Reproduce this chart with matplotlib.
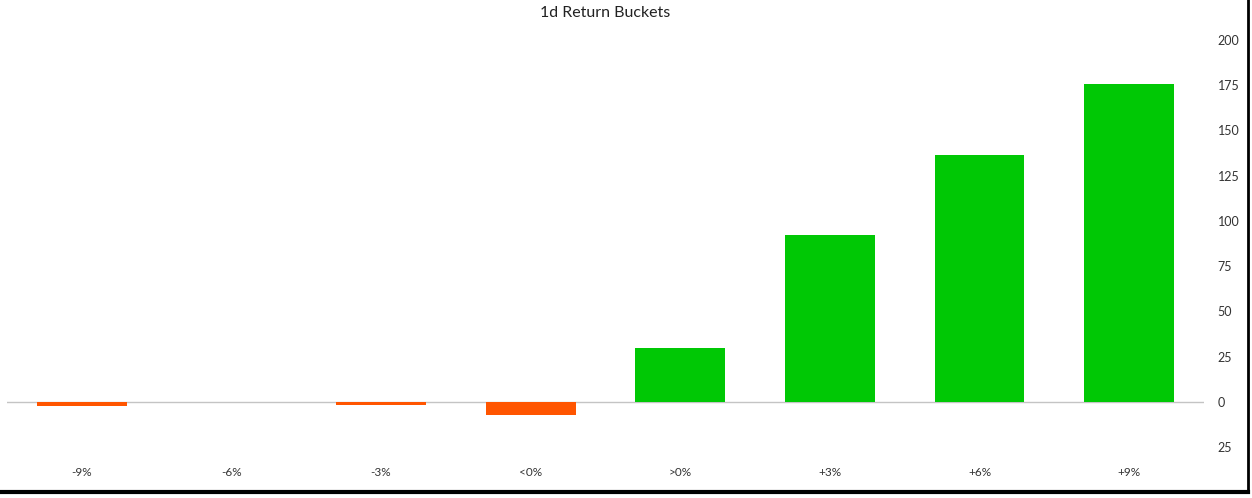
"""1d return bucket bar chart."""
import matplotlib
matplotlib.use("Agg")
import matplotlib.pyplot as plt
from matplotlib.ticker import FuncFormatter
from matplotlib.lines import Line2D

buckets = ["-9%", "-6%", "-3%", "<0%", ">0%", "+3%", "+6%", "+9%"]
counts = [-2.5, 0, -1.5, -7.5, 30, 92, 136.5, 175.5]
y_ticks = [-25, 0, 25, 50, 75, 100, 125, 150, 175, 200]

plt.rcParams["font.family"] = ["Lato", "DejaVu Sans"]

fig = plt.figure(figsize=(12.52, 4.98), dpi=100)
ax = fig.add_axes([0.0056, 0.084, 0.956, 0.854])

colors = ["#FF5500" if c < 0 else "#00C805" for c in counts]
x = range(len(buckets))
ax.bar(x, counts, width=0.6, color=colors, zorder=2)
ax.axhline(0, color="#c4c4c4", linewidth=1, zorder=1)

ax.set_xlim(-0.5, len(buckets) - 0.5)
ax.set_ylim(-30, 205)
ax.set_xticks(list(x))
ax.set_xticklabels(buckets, fontsize=8.5, color="#333333")
ax.set_yticks(y_ticks)
ax.yaxis.set_major_formatter(FuncFormatter(lambda v, p: f"{abs(v):.0f}"))
ax.yaxis.tick_right()
ax.tick_params(axis="y", labelsize=9, colors="#333333", length=0, pad=10)
ax.tick_params(axis="x", length=0, pad=8)
for s in ax.spines.values():
    s.set_visible(False)

ax.set_title("1d Return Buckets", fontsize=11.5, color="#222222", pad=10)

# screenshot frame on bottom and right
fig.add_artist(Line2D([0, 0.997], [0.012, 0.012], color="black", linewidth=3,
                      transform=fig.transFigure))
fig.add_artist(Line2D([0.997, 0.997], [0.012, 1], color="black", linewidth=2,
                      transform=fig.transFigure))

fig.savefig("out.png", dpi=100, facecolor="white")
